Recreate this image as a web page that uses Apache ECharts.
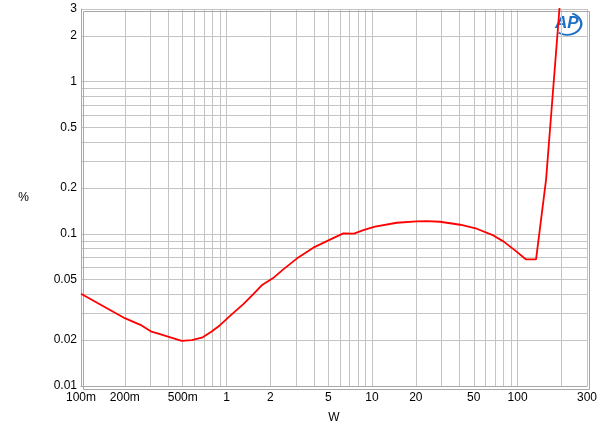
<!DOCTYPE html>
<html>
<head>
<meta charset="utf-8">
<script src="https://cdn.jsdelivr.net/npm/echarts@6/dist/echarts.min.js"></script>
<style>html,body{margin:0;padding:0;background:#fff}#c{width:600px;height:429px}</style>
</head>
<body>
<div id="c"></div>
<script>
// Data (THD+N % vs output power W)
var powerW = [0.1, 0.2, 0.229, 0.261, 0.305, 0.349, 0.492, 0.577, 0.686, 0.791, 0.902, 1.057, 1.305, 1.528, 1.746, 2.078, 2.457, 3.038, 3.95, 5.14, 6.35, 7.52, 8.71, 10.49, 14.78, 20.3, 23.8, 29.3, 40.3, 52.4, 68.2, 79.9, 96.1, 113.9, 134, 157, 195];
var thdPercent = [0.0404, 0.0279, 0.0264, 0.0250, 0.02276, 0.0219, 0.0198, 0.0200, 0.0209, 0.0228, 0.0251, 0.0289, 0.0345, 0.0401, 0.0459, 0.0510, 0.0584, 0.0687, 0.0811, 0.0915, 0.1006, 0.1002, 0.1057, 0.1113, 0.1182, 0.1206, 0.1211, 0.1200, 0.1147, 0.1080, 0.0976, 0.0892, 0.0778, 0.0680, 0.0680, 0.227, 3.2];

var xTickLabels = [0.1, 0.2, 0.5, 1, 2, 5, 10, 20, 50, 100, 300];
var yTickLabels = [0.01, 0.02, 0.05, 0.1, 0.2, 0.5, 1, 2, 3];
var xDecades = [0.1, 1, 10, 100];
var yDecades = [0.01, 0.1, 1];

function gridValues(decades, maxV) {
  var out = [];
  decades.forEach(function (d) {
    for (var m = 1; m <= 9; m++) {
      var v = parseFloat((d * m).toPrecision(6));
      if (v <= maxV + 1e-9) out.push(v);
    }
  });
  return out;
}
var xGrid = gridValues(xDecades, 300);
var yGrid = gridValues(yDecades, 3);

var seriesData = powerW.map(function (w, i) { return [w, thdPercent[i]]; });

var chart = echarts.init(document.getElementById('c'), null, {renderer: 'canvas'});
var font = 'Liberation Sans, Arial, sans-serif';
chart.setOption({
  animation: false,
  backgroundColor: '#fff',
  grid: {left: 81, right: 13, top: 9, bottom: 42, show: false},
  xAxis: {
    type: 'log', min: 0.1, max: 300, logBase: 10,
    name: 'W', nameLocation: 'middle', nameGap: 26,
    nameTextStyle: {color: '#000', fontSize: 12, fontFamily: font},
    axisLine: {show: true, lineStyle: {color: '#a8a8a8', width: 1}},
    axisTick: {show: false, customValues: xGrid},
    axisLabel: {
      customValues: xTickLabels, color: '#000', fontSize: 12, fontFamily: font, margin: 6,
      formatter: function (v) { return v < 1 ? Math.round(v * 1000) + 'm' : String(Math.round(v)); }
    },
    splitLine: {show: true, lineStyle: {color: '#c4c4c4', width: 1}},
    minorTick: {show: false}, minorSplitLine: {show: false}
  },
  yAxis: {
    type: 'log', min: 0.01, max: 3, logBase: 10,
    name: '%', nameLocation: 'middle', nameGap: 52, nameRotate: 0,
    nameTextStyle: {color: '#000', fontSize: 12, fontFamily: font},
    axisLine: {show: true, lineStyle: {color: '#a8a8a8', width: 1}},
    axisTick: {show: false, customValues: yGrid},
    axisLabel: {
      customValues: yTickLabels, color: '#000', fontSize: 12, fontFamily: font, margin: 4,
      formatter: function (v) { return String(parseFloat(v.toPrecision(6))); }
    },
    splitLine: {show: true, lineStyle: {color: '#c4c4c4', width: 1}}
  },
  graphic: [
    {type: 'rect', left: 81, top: 9, shape: {width: 506, height: 378}, style: {fill: 'none', stroke: '#a8a8a8', lineWidth: 1}, silent: true, z: 1},
    {type: 'group', left: 555, top: 11, z: 5, children: [
      {type: 'arc', shape: {cx: 15, cy: 11, r: 11, startAngle: -1.2, endAngle: 2.2, clockwise: true}, scaleX: 1.3, originX: 15, originY: 11, style: {fill: 'none', stroke: '#1f6fc4', lineWidth: 1.8}},
      {type: 'text', x: 3, y: 2, style: {text: 'AP', fill: '#1f6fc4', font: 'italic bold 17px ' + font}}
    ]}
  ],
  series: [{
    type: 'line', data: seriesData, showSymbol: false, symbol: 'none',
    clip: true, smooth: false, z: 10,
    lineStyle: {color: '#ff0000', width: 1.8}
  }]
});
</script>
</body>
</html>
